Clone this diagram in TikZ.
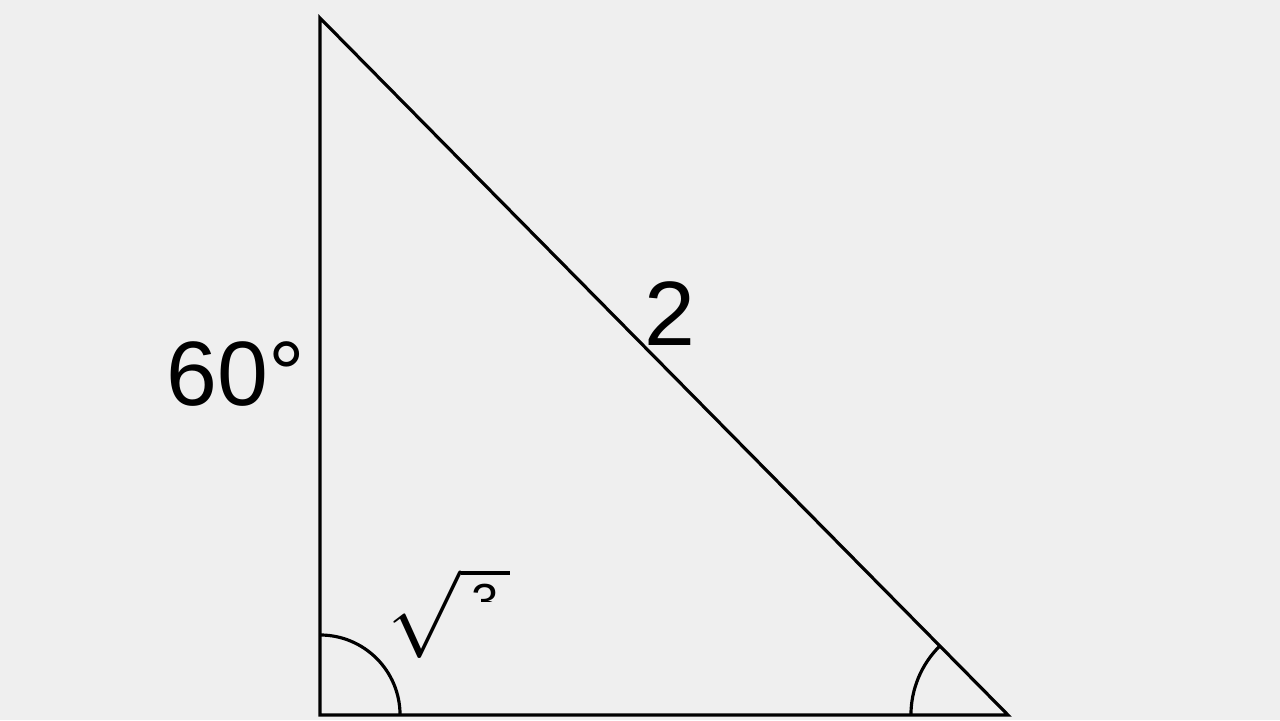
\documentclass[tikz,border=0pt]{standalone}
\usepackage{fontspec}
\setmainfont{Liberation Sans}
\usetikzlibrary{positioning}
\definecolor{bggray}{RGB}{239,239,239}
\tikzset{
  edge/.style={line width=0.9pt, black},
  bigtext/.style={font=\fontsize{26}{30}\selectfont, inner sep=0pt}
}
\begin{document}
\begin{tikzpicture}[x=0.01cm, y=-0.01cm]
    \fill [bggray] (0,0) rectangle (1280,720);
    \useasboundingbox (0,0) rectangle (1280,720);

    % Vertices
    \coordinate (top) at (320,18);
    \coordinate (rt) at (320,715);
    \coordinate (bot) at (1008,715);

    % Triangle
    \draw [edge, line join=miter] (top) -- (rt) -- (bot) -- cycle;

    % Angle marks
    \draw [edge] ([yshift=0.8cm]rt) arc[start angle=90, end angle=0, radius=0.8cm];
    \draw [edge] ([xshift=-0.97cm]bot) arc[start angle=180, end angle=134.6, radius=0.97cm];

    % Labels
    \node [bigtext] (ang) at (236,374) {60°};
    \node [bigtext] (hyp) at (670,314) {2};
    \node [font=\fontsize{27}{30}\selectfont, inner sep=0pt] (root) at (449,613) {$\sqrt{\hphantom{3}\mkern2mu}$};
    \begin{scope}
        \clip (465,578) rectangle (505,601);
        \node [font=\fontsize{14}{16}\selectfont, inner sep=0pt] (three) at (485,602) {3};
    \end{scope}
\end{tikzpicture}
\end{document}
